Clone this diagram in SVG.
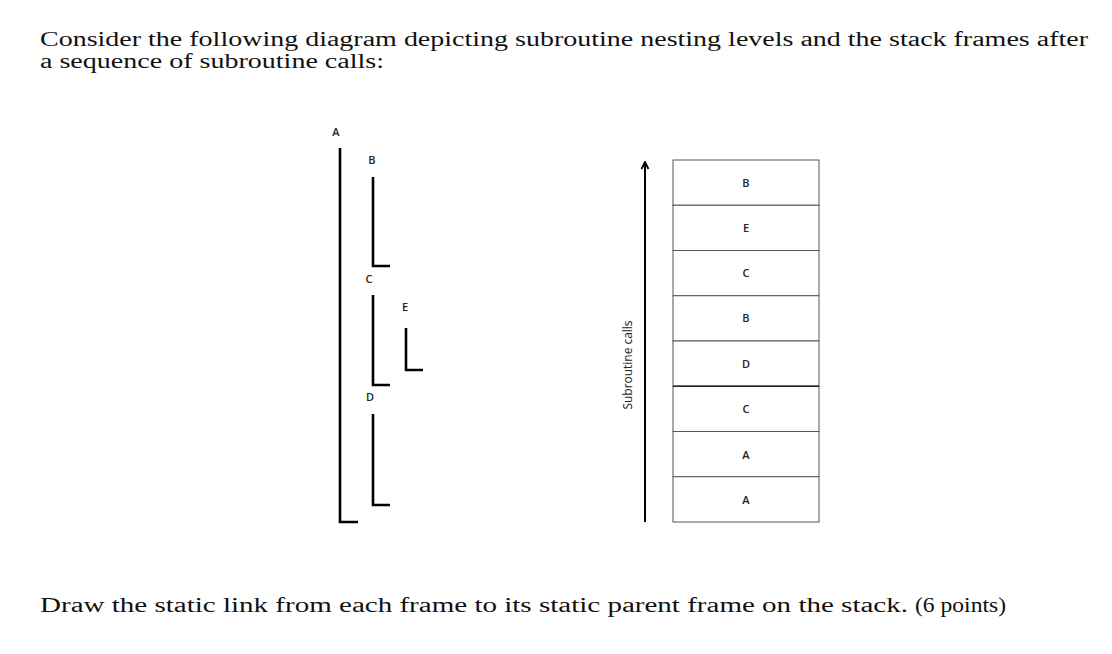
<svg xmlns="http://www.w3.org/2000/svg" width="1112" height="654" viewBox="0 0 1112 654">
<style>
.q{font-family:"Liberation Serif",serif;font-size:20px;fill:#111}
.lbl{font-family:"Open Sans","Liberation Sans",sans-serif;font-size:11px;font-weight:600;fill:#222;text-anchor:middle}
.bar{fill:none;stroke:#000;stroke-width:2.6}
.cell{fill:#fff;stroke:#555;stroke-width:1}
</style>
<defs>
<marker id="ah" viewBox="0 0 10 10" refX="9" refY="5" markerWidth="10" markerHeight="10" markerUnits="userSpaceOnUse" orient="auto">
<path d="M2,1.5 L9,5 L2,8.5" fill="none" stroke="#000" stroke-width="1.8"/>
</marker>
</defs>
<rect width="1112" height="654" fill="#fff"/>
<text class="q" x="40" y="46" textLength="1048" lengthAdjust="spacingAndGlyphs">Consider the following diagram depicting subroutine nesting levels and the stack frames after</text>
<text class="q" x="40" y="68" textLength="344" lengthAdjust="spacingAndGlyphs">a sequence of subroutine calls:</text>
<g id="nest-A"><text class="lbl" x="336" y="136">A</text><path class="bar" d="M340,148 V522 H358"/></g>
<g id="nest-B"><text class="lbl" x="372" y="164">B</text><path class="bar" d="M373,177 V266 H390"/></g>
<g id="nest-C"><text class="lbl" x="369" y="283">C</text><path class="bar" d="M373,295 V385 H390"/></g>
<g id="nest-E"><text class="lbl" x="405" y="311">E</text><path class="bar" d="M406,328 V370 H423"/></g>
<g id="nest-D"><text class="lbl" x="370" y="401">D</text><path class="bar" d="M373,414 V505 H390"/></g>
<g id="connectors"><line x1="645" y1="522" x2="645" y2="162" stroke="#000" stroke-width="2" marker-end="url(#ah)"/></g>
<text x="632" y="365" transform="rotate(-90 632 365)" text-anchor="middle" font-family="'Open Sans','Liberation Sans',sans-serif" font-size="13" fill="#222" textLength="89" lengthAdjust="spacingAndGlyphs">Subroutine calls</text>
<g id="stack">
<g id="f8"><rect class="cell" x="673" y="160" width="146" height="45.25"/><text class="lbl" x="746" y="187">B</text></g>
<g id="f7"><rect class="cell" x="673" y="205.25" width="146" height="45.25"/><text class="lbl" x="746" y="232">E</text></g>
<g id="f6"><rect class="cell" x="673" y="250.5" width="146" height="45.25"/><text class="lbl" x="746" y="277">C</text></g>
<g id="f5"><rect class="cell" x="673" y="295.75" width="146" height="45.25"/><text class="lbl" x="746" y="322">B</text></g>
<g id="f4"><rect class="cell" x="673" y="341" width="146" height="45.25"/><text class="lbl" x="746" y="368">D</text></g>
<g id="f3"><rect class="cell" x="673" y="386.25" width="146" height="45.25"/><text class="lbl" x="746" y="413">C</text></g>
<g id="f2"><rect class="cell" x="673" y="431.5" width="146" height="45.25"/><text class="lbl" x="746" y="459">A</text></g>
<g id="f1"><rect class="cell" x="673" y="476.75" width="146" height="45.25"/><text class="lbl" x="746" y="504">A</text></g>
<line x1="673" y1="386.25" x2="819" y2="386.25" stroke="#222" stroke-width="1.6"/>
</g>
<text class="q" x="40" y="612" textLength="868" lengthAdjust="spacingAndGlyphs">Draw the static link from each frame to its static parent frame on the stack.</text>
<text class="q" x="915" y="612" font-size="16" textLength="91" lengthAdjust="spacingAndGlyphs">(6 points)</text>
</svg>
